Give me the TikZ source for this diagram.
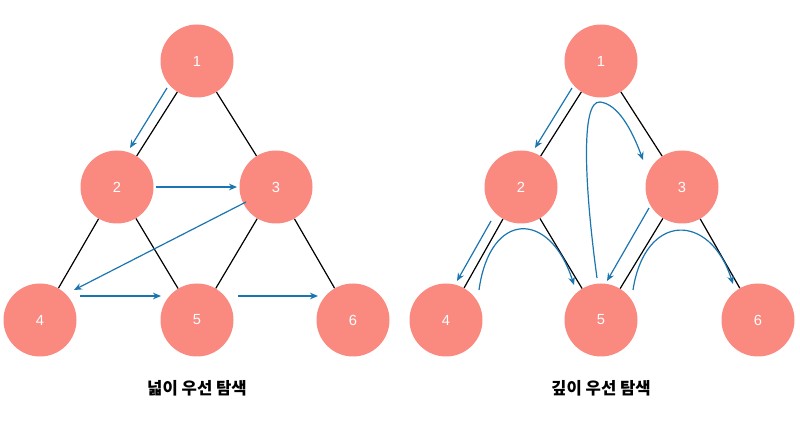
\documentclass[tikz,border=0pt]{standalone}
\usepackage{fontspec}
\setmainfont{Liberation Sans}
\newfontfamily\kr{Noto Sans CJK KR}
\usetikzlibrary{arrows.meta}
\definecolor{salmon}{HTML}{FA8980}
\definecolor{arr}{HTML}{1A75B0}
\tikzset{
 vtx/.style={circle,fill=salmon,minimum size=54.75pt,inner sep=0pt,text=white,font=\fontsize{11}{13}\selectfont},
 edge/.style={black,line width=0.9pt},
 trav/.style={arr,line width=0.9pt,-{Stealth[length=6pt,width=5pt]}},
 ttl/.style={font=\kr\bfseries\fontsize{12.5}{14}\selectfont}
}
\begin{document}
\begin{tikzpicture}[x=0.75pt,y=-0.75pt]
\useasboundingbox (0,0) rectangle (800,423);
% left
\node[vtx] (a1) at (197,61) {1};
\node[vtx] (a2) at (117,187) {2};
\node[vtx] (a3) at (276,187) {3};
\node[vtx] (a4) at (40,320) {4};
\node[vtx] (a5) at (197,320) {5};
\node[vtx] (a6) at (353,320) {6};
\begin{scope}[on background layer/.style={}]
\end{scope}
\draw[edge] (a1)--(a2); \draw[edge] (a1)--(a3);
\draw[edge] (a2)--(a4); \draw[edge] (a2)--(a5);
\draw[edge] (a3)--(a5); \draw[edge] (a3)--(a6);
\coordinate (p1) at (167,88); \coordinate (p2) at (130,148);
\draw[trav] (p1)--(p2);
\coordinate (p3) at (156,187); \coordinate (p4) at (237,187);
\draw[trav] (p3)--(p4);
\coordinate (p5) at (246,202); \coordinate (p6) at (74,290);
\draw[trav] (p5)--(p6);
\coordinate (p7) at (80,296); \coordinate (p8) at (161,296);
\draw[trav] (p7)--(p8);
\coordinate (p9) at (238,296); \coordinate (p10) at (318,296);
\draw[trav] (p9)--(p10);
\node[ttl] (t1) at (197,388) {넓이 우선 탐색};
% right
\node[vtx] (b1) at (601,61) {1};
\node[vtx] (b2) at (521,187) {2};
\node[vtx] (b3) at (682,187) {3};
\node[vtx] (b4) at (446,320) {4};
\node[vtx] (b5) at (601,320) {5};
\node[vtx] (b6) at (758,320) {6};
\draw[edge] (b1)--(b2); \draw[edge] (b1)--(b3);
\draw[edge] (b2)--(b4); \draw[edge] (b2)--(b5);
\draw[edge] (b3)--(b5); \draw[edge] (b3)--(b6);
\coordinate (q1) at (572,88); \coordinate (q2) at (535,148);
\draw[trav] (q1)--(q2);
\coordinate (q3) at (491,221); \coordinate (q4) at (457,281);
\draw[trav] (q3)--(q4);
\coordinate (q5) at (479,290); \coordinate (q6) at (574,285);
\draw[trav] (q5) .. controls (490,210) and (550,210) .. (q6);
\coordinate (q7) at (597,278); \coordinate (q8) at (643,160);
\draw[trav] (q7) .. controls (585,190) and (580,100) .. (600,102) .. controls (618,104) and (632,130) .. (q8);
\coordinate (q9) at (649,208); \coordinate (q10) at (607,281);
\draw[trav] (q9)--(q10);
\coordinate (q11) at (633,290); \coordinate (q12) at (733,284);
\draw[trav] (q11) .. controls (645,212) and (710,212) .. (q12);
\node[ttl] (t2) at (601,388) {깊이 우선 탐색};
\end{tikzpicture}
\end{document}
